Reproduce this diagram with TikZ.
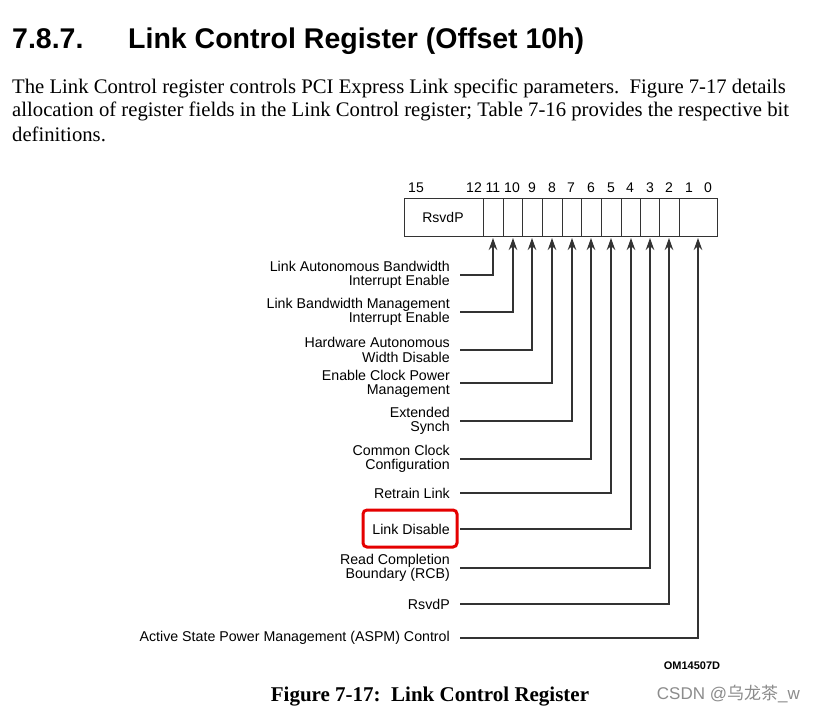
\documentclass[tikz,border=0pt]{standalone}
\usepackage{fontspec}
\setmainfont{Liberation Serif}
\setsansfont{Liberation Sans}
\newfontfamily\cjk{Noto Sans CJK SC}
\usetikzlibrary{arrows.meta}
\begin{document}
\begin{tikzpicture}[x=1pt,y=-1pt,
  lbl/.style={font=\sffamily\fontsize{14.2}{14.5}\selectfont,align=right,anchor=east,inner sep=0pt},
  bit/.style={font=\sffamily\fontsize{14}{15}\selectfont,inner sep=0pt},
  conn/.style={draw=black!80,line width=1.4pt,-{Stealth[length=12pt,width=8.5pt]}},
  cell/.style={draw=black!80,line width=1pt}]
\useasboundingbox (0,0) rectangle (815,712);
\fill[white] (0,0) rectangle (815,712);
% heading
\node[anchor=base west,inner sep=0pt,font=\sffamily\bfseries\fontsize{28.5}{30}\selectfont] (h1) at (12,48) {7.8.7.};
\node[anchor=base west,inner sep=0pt,font=\sffamily\bfseries\fontsize{28.5}{30}\selectfont] (h2) at (128,48) {Link Control Register (Offset 10h)};
% paragraph
\node[anchor=west,inner sep=0pt,font=\fontsize{20.7}{22}\selectfont] (p1) at (12,88) {The Link Control register controls PCI Express Link specific parameters.\ \ Figure 7-17 details};
\node[anchor=west,inner sep=0pt,font=\fontsize{20.7}{22}\selectfont] (p2) at (12,111) {allocation of register fields in the Link Control register; Table 7-16 provides the respective bit};
\node[anchor=west,inner sep=0pt,font=\fontsize{20.7}{22}\selectfont] (p3) at (12,134) {definitions.};
% register
\draw[cell] (404,198) rectangle (717,236);
\foreach \x in {483,503,522,542,562,581,601,621,640,659,679}{\draw[cell] (\x,198) -- (\x,236);}
\node[bit] (rs) at (443,217) {RsvdP};
\node[bit] at (416,188) {15};
\node[bit] at (474,188) {12};
\foreach \b/\x in {11/493,10/512,9/532,8/552,7/571,6/591,5/611,4/630,3/650,2/669,1/689,0/708}{\node[bit] at (\x,188) {\b};}
% arrow targets
\foreach \n/\x in {a11/493,a10/513,a9/532,a8/552,a7/572,a6/591,a5/611,a4/631,a3/650,a2/669,a0/698}{\coordinate (\n) at (\x,238);}
% labels
\node[lbl] (l11) at (450,275) {Link Autonomous Bandwidth\\Interrupt Enable};
\node[lbl] (l10) at (450,312) {Link Bandwidth Management\\Interrupt Enable};
\node[lbl] (l9) at (450,350) {Hardware Autonomous\\Width Disable};
\node[lbl] (l8) at (450,384) {Enable Clock Power\\Management};
\node[lbl] (l7) at (450,421) {Extended\\Synch};
\node[lbl] (l6) at (450,459) {Common Clock\\Configuration};
\node[lbl] (l5) at (450,493) {Retrain Link};
\node[lbl] (l4) at (450,529) {Link Disable};
\node[lbl] (l3) at (450,568) {Read Completion\\Boundary (RCB)};
\node[lbl] (l2) at (450,604) {RsvdP};
\node[lbl] (l0) at (450,638) {Active State Power Management (ASPM) Control};
% connectors
\foreach \l/\a/\y in {l11/a11/275,l10/a10/312,l9/a9/350,l8/a8/383,l7/a7/421,l6/a6/459,l5/a5/493,l4/a4/529,l3/a3/568,l2/a2/604,l0/a0/638}{
  \coordinate (s\l) at (460,\y);
  \draw[conn] (s\l) -| (\a);
}
% highlight
\draw[red!90!black,line width=3pt,rounded corners=4pt] (363,510) rectangle (457,547);
\node[font=\sffamily\bfseries\fontsize{11}{12}\selectfont,inner sep=0pt] (om) at (692,666) {OM14507D};
\node[font=\fontsize{21}{24}\selectfont\bfseries,inner sep=0pt] (cap) at (430,697) {Figure 7-17:\ \ Link Control Register};
\node[font=\sffamily\fontsize{17}{18}\selectfont,text=black!45,anchor=east,inner sep=0pt] (wm) at (800,694) {CSDN @{\cjk 乌龙茶}\_w};
\end{tikzpicture}
\end{document}
